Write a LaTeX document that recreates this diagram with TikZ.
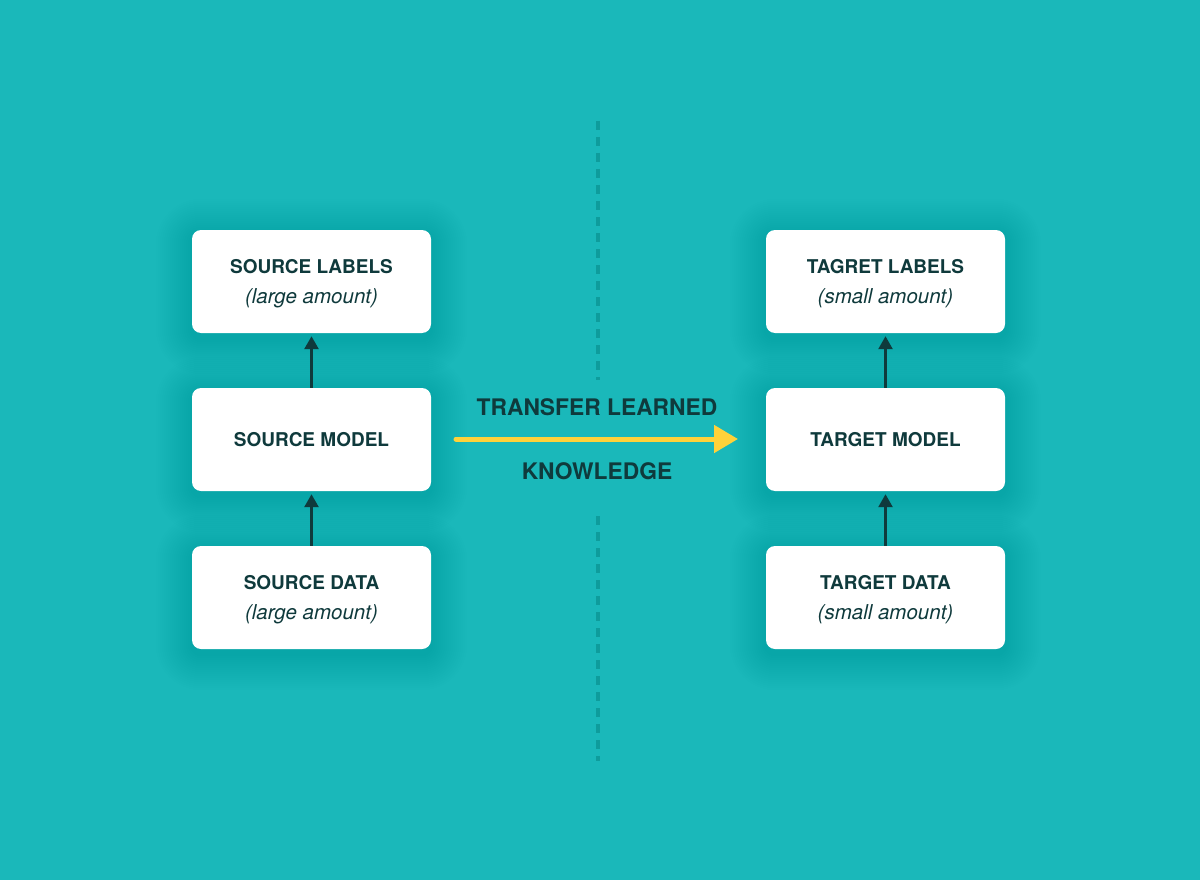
\documentclass[tikz,border=0pt]{standalone}
\usepackage{fontspec}
\setmainfont{TeX Gyre Heros}
\usetikzlibrary{arrows.meta,backgrounds}
\definecolor{bg}{HTML}{1AB8BA}
\definecolor{ink}{HTML}{0F3A3C}
\definecolor{dashc}{HTML}{0E9C9C}
\definecolor{gold}{HTML}{FFD23A}
\newcommand\tstrut{\rule{0pt}{18pt}}
\newcommand\sub[1]{{\fontsize{20.5}{30}\selectfont\itshape #1}}
\tikzset{
  box/.style={draw=none, fill=white, rounded corners=9pt, minimum width=239pt, minimum height=103pt,
    align=center, text=ink, font=\fontsize{19}{30}\selectfont, inner sep=0pt},
  uparrow/.style={draw=ink, line width=2.6pt, -{Triangle[length=13pt,width=14pt]}},
  divider/.style={draw=dashc, line width=3.5pt, dash pattern=on 9pt off 7pt},
  lbl/.style={text=ink, font=\bfseries\fontsize{22.8}{26}\selectfont, inner sep=0pt},
  shad/.style={fill=black, fill opacity=0.0045, draw=none}
}
\newcommand\softshadow[1]{%
  \foreach \r in {2,4,...,36}{%
    \fill[shad, rounded corners=9pt+\r pt] ([xshift=-\r pt,yshift=\r pt-5pt]#1.north west) rectangle ([xshift=\r pt,yshift=-\r pt-5pt]#1.south east);
  }}
\begin{document}
\begin{tikzpicture}[x=1pt,y=-1pt]
\node[box] (sl) at (311.5,281.5) {\tstrut\textbf{SOURCE LABELS}\\\sub{(large amount)}};
\node[box] (sm) at (311.5,439.5) {\textbf{SOURCE MODEL}};
\node[box] (sd) at (311.5,597.5) {\tstrut\textbf{SOURCE DATA}\\\sub{(large amount)}};
\node[box] (tl) at (885.5,281.5) {\tstrut\textbf{TAGRET LABELS}\\\sub{(small amount)}};
\node[box] (tm) at (885.5,439.5) {\textbf{TARGET MODEL}};
\node[box] (td) at (885.5,597.5) {\tstrut\textbf{TARGET DATA}\\\sub{(small amount)}};
\begin{scope}[on background layer]
\fill[bg] (0,0) rectangle (1200,880);
\softshadow{sl}\softshadow{sm}\softshadow{sd}
\softshadow{tl}\softshadow{tm}\softshadow{td}
\draw[divider] (598,121) -- (598,380);
\draw[divider] (598,516) -- (598,761);
\end{scope}
\useasboundingbox (0,0) rectangle (1200,880);
\draw[uparrow] (sm.north) -- ([yshift=-3pt]sl.south);
\draw[uparrow] (sd.north) -- ([yshift=-3pt]sm.south);
\draw[uparrow] (tm.north) -- ([yshift=-3pt]tl.south);
\draw[uparrow] (td.north) -- ([yshift=-3pt]tm.south);
\coordinate (a1) at (456,439);
\coordinate (a2) at (738,439);
\draw[draw=gold, line width=5pt, line cap=round, -{Triangle[length=24pt,width=27pt]}] (a1) -- (a2);
\node[lbl] (t1) at (597,407) {TRANSFER LEARNED};
\node[lbl] (t2) at (597,471) {KNOWLEDGE};
\end{tikzpicture}
\end{document}
